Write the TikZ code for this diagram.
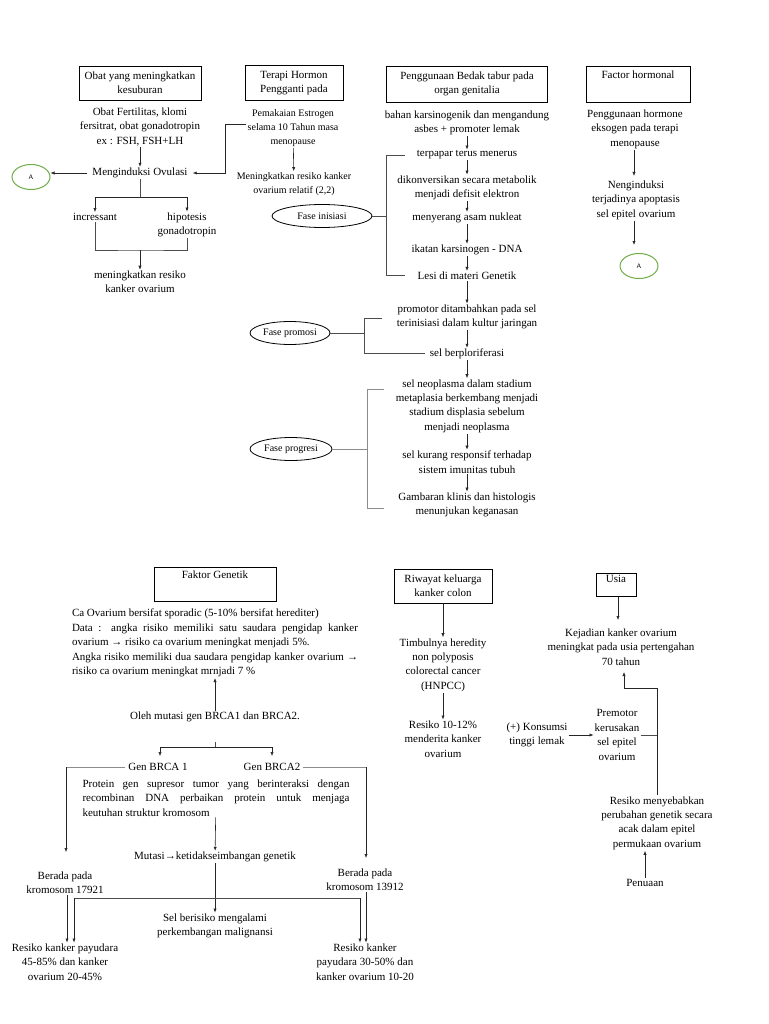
\documentclass[tikz,border=0pt]{standalone}
\usepackage{fontspec}
\setmainfont{Liberation Serif}
\usetikzlibrary{arrows.meta,shapes.geometric,calc}
\newcommand{\ff}{\fontsize{11}{14.4}\selectfont}
\newcommand{\fsm}{\fontsize{10}{14.2}\selectfont}
\newcommand{\fov}{\fontsize{10}{12}\selectfont}
\hyphenpenalty=10000
\exhyphenpenalty=10000
\definecolor{agreen}{HTML}{70AD47}
\tikzset{
  txt/.style={align=center, inner sep=1pt, font=\ff},
  stxt/.style={align=center, inner sep=1pt, font=\fsm},
  jtxt/.style={align=justify, inner sep=1pt, font=\ff},
  box/.style={draw, line width=0.9pt, align=center, font=\ff, inner sep=2pt},
  oval/.style={draw, ellipse, line width=0.8pt, font=\fov, inner sep=0pt},
  aoval/.style={draw=agreen, ellipse, line width=1pt, font=\sffamily\fontsize{6.5}{8}\selectfont, inner sep=0pt, minimum width=38pt, minimum height=25pt},
  arr/.style={-{Latex[length=4pt,width=3.2pt]}, line width=0.6pt, draw=black!85},
  ln/.style={line width=0.6pt, draw=black!70},
  lln/.style={line width=0.6pt, draw=black!45}
}
\begin{document}
\begin{tikzpicture}[x=1pt,y=-1pt]
\useasboundingbox[fill=white] (0,0) rectangle (768,1024);

% ---------- column 1 ----------
\node[box, minimum width=122pt, minimum height=34pt] (b1) at (140,83) {Obat yang meningkatkan\\kesuburan};
\node[txt] (t1) at (140,127) {Obat Fertilitas, klomi\\fersitrat, obat gonadotropin\\ex : FSH, FSH+LH};
\node[txt] (ov) at (140,173) {Menginduksi Ovulasi};
\node[aoval] (A1) at (31,177) {A};
\node[txt] (inc) at (95,217) {incressant};
\node[txt] (hip) at (187,225) {hipotesis\\gonadotropin};
\node[txt] (mr) at (140,282) {meningkatkan resiko\\kanker ovarium};

\draw[arr] (t1) -- (ov);
\draw[arr] ([xshift=-4pt]ov.west) -- (ov.west -| A1.east);
\coordinate (ovj) at (140,197);
\draw[ln] (ov) -- (ovj);
\draw[arr] (ovj) -| (inc);
\draw[arr] (ovj) -| (hip);
\coordinate (mrj) at (140,250);
\draw[ln] (inc) |- (mrj) -| (hip);
\draw[arr] (mrj) -- (mr);

% ---------- column 2 ----------
\node[box, minimum width=98pt, minimum height=35pt] (b2) at (294,83) {Terapi Hormon\\Pengganti pada};
\node[stxt] (pe) at (293,128) {Pemakaian Estrogen\\selama 10 Tahun masa\\menopause};
\node[stxt] (mk) at (294,184) {Meningkatkan resiko kanker\\ovarium relatif (2,2)};
\node[oval, minimum width=100pt, minimum height=23pt] (fi) at (322,216) {Fase inisiasi};

\draw[arr] (pe) -- (mk);
\draw[arr] ([yshift=4pt]pe.west) -- ++(-21,0) |- ([xshift=4pt]ov.east);

% ---------- column 3 ----------
\node[box, minimum width=161pt, minimum height=36pt] (b3) at (467,84) {Penggunaan Bedak tabur pada\\organ genitalia};
\node[txt] (s1) at (467,123) {bahan karsinogenik dan mengandung\\asbes + promoter lemak};
\node[txt] (s2) at (467,155) {terpapar terus menerus};
\node[txt] (s3) at (467,188) {dikonversikan secara metabolik\\menjadi defisit elektron};
\node[txt] (s4) at (467,218) {menyerang asam nukleat};
\node[txt] (s5) at (467,250) {ikatan karsinogen - DNA};
\node[txt] (s6) at (467,276) {Lesi di materi Genetik};
\node[txt] (s7) at (467,317) {promotor ditambahkan pada sel\\terinisiasi dalam kultur jaringan};
\node[txt] (s8) at (467,354) {sel berploriferasi};
\node[txt] (s9) at (467,406) {sel neoplasma dalam stadium\\metaplasia berkembang menjadi\\stadium displasia sebelum\\menjadi neoplasma};
\node[txt] (s10) at (467,462) {sel kurang responsif terhadap\\sistem imunitas tubuh};
\node[txt] (s11) at (467,505) {Gambaran klinis dan histologis\\menunjukan keganasan};

\draw[arr] (s1) -- (s2);
\draw[arr] (s2) -- (s3);
\draw[arr] (s3) -- (s4);
\draw[arr] (s4) -- (s5);
\draw[arr] (s5) -- (s6);
\draw[arr] (s6) -- (s7);
\draw[arr] (s7) -- (s8);
\draw[arr] (s8) -- (s9);
\draw[arr] (s9) -- (s10);
\draw[arr] (s10) -- (s11);

\node[oval, minimum width=80pt, minimum height=23pt] (fp) at (290,333) {Fase promosi};
\node[oval, minimum width=82pt, minimum height=23pt] (fg) at (291,449) {Fase progresi};

% brackets
\coordinate (iT) at (405,155);
\coordinate (iB) at (405,275);
\draw[ln] (fi.east) -- (386,216);
\draw[ln] (iT) -- (386,155) -- (386,275) -- (iB);

\coordinate (pT) at (382,318);
\coordinate (pB) at (425,353);
\draw[ln] (fp.east) -- (364,333);
\draw[ln] (pT) -- (364,318) -- (364,353) -- (pB);

\coordinate (gT) at (384,389);
\coordinate (gB) at (384,508);
\draw[lln] (fg.east) -- (367,449);
\draw[lln] (gT) -- (367,389) -- (367,508) -- (gB);

% ---------- column 4 ----------
\node[box, minimum width=104pt, minimum height=36pt] (b4) at (638,84) {Factor hormonal\\\strut};
\node[txt] (h1) at (635,129) {Penggunaan hormone\\eksogen pada terapi\\menopause};
\node[txt] (h2) at (636,200) {Nenginduksi\\terjadinya apoptasis\\sel epitel ovarium};
\node[aoval] (A2) at (639,266) {A};
\draw[arr] (h1.south -| 634,0) -- (634,176);
\draw[arr] (h2.south -| 634,0) -- (634,245);

% ---------- bottom left ----------
\node[box, minimum width=122pt, minimum height=34pt] (b5) at (215,584) {Faktor Genetik\\\strut};
\node[jtxt, text width=286pt] (g1) at (215,643) {Ca Ovarium bersifat sporadic (5-10\% bersifat herediter)\\Data : angka risiko memiliki satu saudara pengidap kanker ovarium → risiko ca ovarium meningkat menjadi 5\%.\\Angka risiko memiliki dua saudara pengidap kanker ovarium → risiko ca ovarium meningkat mrnjadi 7 \%};
\node[txt] (g2) at (215,717) {Oleh mutasi gen BRCA1 dan BRCA2.};
\node[txt] (br1) at (158,767) {Gen BRCA 1};
\node[txt] (br2) at (272,767) {Gen BRCA2};
\node[jtxt, text width=267pt] (pr) at (216,798) {Protein gen supresor tumor yang berinteraksi dengan\linebreak recombinan DNA perbaikan protein untuk menjaga\linebreak keutuhan struktur kromosom};
\node[txt] (mu) at (215,857) {Mutasi→ketidakseimbangan genetik};
\node[txt] (k1) at (65,883) {Berada pada\\kromosom 17921};
\node[txt] (k2) at (365,880) {Berada pada\\kromosom 13912};
\node[txt] (sb) at (215,926) {Sel berisiko mengalami\\perkembangan malignansi};
\node[txt] (r1) at (65,962) {Resiko kanker payudara\\45-85\% dan kanker\\ovarium 20-45\%};
\node[txt] (r2) at (365,962) {Resiko kanker\\payudara 30-50\% dan\\kanker ovarium 10-20};

\draw[arr] (g2) -- (g1);
\coordinate (gt) at (215,742);
\coordinate (gj) at (215,747);
\draw[ln] (gt) -- (gj);
\draw[arr] (gj) -| (160,756);
\draw[arr] (gj) -| (272,756);
\draw[lln] ([xshift=-2pt]br1.west) -- (66,767);
\draw[arr] (66,767) -- (66,852);
\draw[lln] ([xshift=2pt]br2.east) -- (366,767);
\draw[arr] (366,767) -- (366,858);
\draw[arr] (pr) -- (mu);
\draw[arr] (mu) -- (sb);
\coordinate (hl) at (74,898);
\coordinate (hr) at (360,898);
\draw[ln] (hl) -- (hr);
\draw[arr] (hl) -- (hl |- r1.north);
\draw[arr] (hr) -- (hr |- r2.north);
\draw[arr] ([xshift=2pt]k1.south) -- ([xshift=2pt]k1.south |- r1.north);
\draw[arr] ([xshift=1pt]k2.south) -- ([xshift=1pt]k2.south |- r2.north);

% ---------- bottom middle ----------
\node[box, minimum width=98pt, minimum height=34pt] (b6) at (443,586) {Riwayat keluarga\\kanker colon};
\node[txt] (c1) at (443,665) {Timbulnya heredity\\non polyposis\\colorectal cancer\\(HNPCC)};
\node[txt] (c2) at (443,739) {Resiko 10-12\%\\menderita kanker\\ovarium};
\draw[arr] (b6) -- (c1);
\draw[arr] (c1) -- (c2);

% ---------- bottom right ----------
\node[box, minimum width=40pt, minimum height=23pt, inner sep=1pt] (b7) at (616,585) {Usia\\[-6pt]\strut};
\node[txt] (u1) at (621,647) {Kejadian kanker ovarium\\meningkat pada usia pertengahan\\70 tahun};
\node[txt] (u2) at (617,735) {Premotor\\kerusakan\\sel epitel\\ovarium};
\node[txt] (u3) at (537,735) {(+) Konsumsi\\tinggi lemak};
\node[txt] (u4) at (657,823) {Resiko menyebabkan\\perubahan genetik secara\\acak dalam epitel\\permukaan ovarium};
\node[txt] (u5) at (645,883) {Penuaan};

\draw[arr] (b7.south -| 618,0) -- (618,620);
\draw[arr] (u3.east) -- (u2.west |- u3.east);
\coordinate (uc) at (657,688);
\draw[ln] (u2.east) -- (u2.east -| uc);
\draw[arr] (u4.north) -- (uc) -| (624,672);
\draw[arr] (u5) -- (u5 |- u4.south);
\end{tikzpicture}
\end{document}
